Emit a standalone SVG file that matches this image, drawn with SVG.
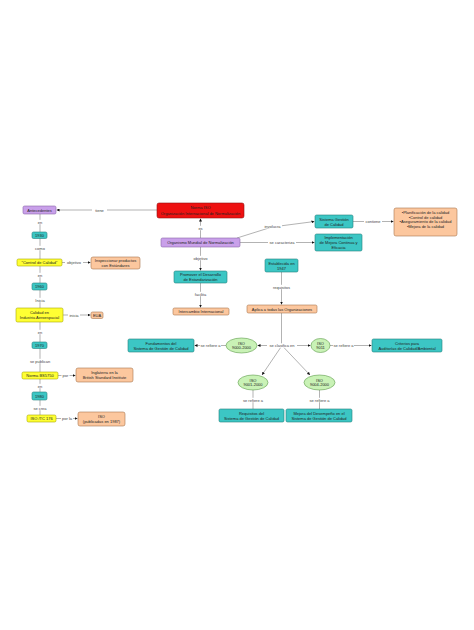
<svg xmlns="http://www.w3.org/2000/svg" width="474" height="630" viewBox="0 0 474 630">
<defs>
<marker id="ah" viewBox="0 0 10 10" refX="10" refY="5" markerWidth="3" markerHeight="3" markerUnits="userSpaceOnUse" orient="auto">
<path d="M0,0 L10,5 L0,10 z" fill="#111"/>
</marker>
<style>
text{font-family:"Liberation Sans","DejaVu Sans",sans-serif;font-size:4px;fill:#222;text-anchor:middle;dominant-baseline:central}
.lab{fill:#444}
.lbg{fill:#fff}
.c line,.c polyline{stroke:#666;stroke-width:0.5;fill:none}
.a{marker-end:url(#ah)}
.pu{fill:#c9a0ea;stroke:#8a66aa;stroke-width:0.6}
.te{fill:#3cc6c4;stroke:#237f7e;stroke-width:0.6}
.ye{fill:#ffff33;stroke:#a8a800;stroke-width:0.6}
.or{fill:#fcc79e;stroke:#a8764e;stroke-width:0.6}
.re{fill:#ee1111;stroke:#901010;stroke-width:0.6}
.gr{fill:#c9f2b6;stroke:#5d9a4a;stroke-width:0.6}
</style>
</defs>
<rect width="474" height="630" fill="#fff"/>

<g id="connectors" class="c">
<line x1="40" y1="214" x2="40" y2="415"/>
<line x1="157" y1="210" x2="56.5" y2="210" class="a"/>
<line x1="200.5" y1="238" x2="200.5" y2="218.5" class="a"/>
<line x1="200.5" y1="247" x2="200.5" y2="270.5" class="a"/>
<line x1="200.5" y1="283" x2="200.5" y2="307.5" class="a"/>
<polyline points="237,238 272,227 314.5,221.5" class="a"/>
<line x1="240" y1="242.5" x2="314.5" y2="242.5" class="a"/>
<line x1="353" y1="221.5" x2="393.5" y2="221.5" class="a"/>
<line x1="62" y1="262.5" x2="90.5" y2="262.5" class="a"/>
<line x1="63" y1="315" x2="90.5" y2="315" class="a"/>
<line x1="58" y1="375.5" x2="75.5" y2="375.5" class="a"/>
<line x1="56" y1="418.5" x2="77.5" y2="418.5" class="a"/>
<line x1="281.5" y1="272" x2="281.5" y2="304.5" class="a"/>
<line x1="281.5" y1="313" x2="281.5" y2="345"/>
<line x1="282" y1="345.5" x2="257.5" y2="345.5" class="a"/>
<line x1="282" y1="345.5" x2="310.5" y2="345.5" class="a"/>
<line x1="282" y1="345.5" x2="262" y2="375" class="a"/>
<line x1="282" y1="345.5" x2="310" y2="375" class="a"/>
<line x1="226" y1="345.5" x2="194.5" y2="345.5" class="a"/>
<line x1="330" y1="345.5" x2="371.5" y2="345.5" class="a"/>
<line x1="253" y1="390" x2="253" y2="409"/>
<line x1="319.5" y1="390" x2="319.5" y2="409"/>
</g>

<g id="labels">
<rect class="lbg" x="92" y="207.8" width="15" height="4.4"/><text class="lab" x="99.5" y="210">tiene</text>
<rect class="lbg" x="197.5" y="225.8" width="6" height="4.4"/><text class="lab" x="200.5" y="228">es</text>
<rect class="lbg" x="191" y="255.8" width="19" height="4.4"/><text class="lab" x="200.5" y="258">objetivo</text>
<rect class="lbg" x="193" y="291.8" width="15" height="4.4"/><text class="lab" x="200.5" y="294">facilita</text>
<rect class="lbg" x="263" y="224" width="19" height="4.4"/><text class="lab" x="272.5" y="226.2">involucra</text>
<rect class="lbg" x="268" y="240.3" width="28" height="4.4"/><text class="lab" x="282" y="242.5">se caracteriza</text>
<rect class="lbg" x="364" y="219.3" width="18" height="4.4"/><text class="lab" x="373" y="221.5">contiene</text>
<rect class="lbg" x="37" y="219.8" width="6" height="4.4"/><text class="lab" x="40" y="222">en</text>
<rect class="lbg" x="34" y="245.8" width="12" height="4.4"/><text class="lab" x="40" y="248">como</text>
<rect class="lbg" x="37" y="272.8" width="6" height="4.4"/><text class="lab" x="40" y="275">en</text>
<rect class="lbg" x="34.5" y="297.8" width="11" height="4.4"/><text class="lab" x="40" y="300">Inicia</text>
<rect class="lbg" x="37" y="329.8" width="6" height="4.4"/><text class="lab" x="40" y="332">en</text>
<rect class="lbg" x="29" y="358.8" width="22" height="4.4"/><text class="lab" x="40" y="361">se publican</text>
<rect class="lbg" x="37" y="383.8" width="6" height="4.4"/><text class="lab" x="40" y="386">en</text>
<rect class="lbg" x="33" y="405.8" width="14" height="4.4"/><text class="lab" x="40" y="408">se crea</text>
<rect class="lbg" x="65" y="260.3" width="18" height="4.4"/><text class="lab" x="74" y="262.5">objetivo</text>
<rect class="lbg" x="68" y="312.8" width="12" height="4.4"/><text class="lab" x="74" y="315">inicia</text>
<rect class="lbg" x="61.5" y="373.3" width="8" height="4.4"/><text class="lab" x="65.5" y="375.5">por</text>
<rect class="lbg" x="61" y="416.3" width="12" height="4.4"/><text class="lab" x="67" y="418.5">por la</text>
<rect class="lbg" x="272" y="284.8" width="19" height="4.4"/><text class="lab" x="281.5" y="287">requisitos</text>
<rect class="lbg" x="267" y="343.3" width="30" height="4.4"/><text class="lab" x="282" y="345.5">se clasifica en</text>
<rect class="lbg" x="200" y="343.3" width="21" height="4.4"/><text class="lab" x="210.5" y="345.5">se refiere a</text>
<rect class="lbg" x="333" y="343.3" width="21" height="4.4"/><text class="lab" x="343.5" y="345.5">se refiere a</text>
<rect class="lbg" x="242.5" y="397.8" width="21" height="4.4"/><text class="lab" x="253" y="400">se refiere a</text>
<rect class="lbg" x="309" y="397.8" width="21" height="4.4"/><text class="lab" x="319.5" y="400">se refiere a</text>
</g>

<g id="norma-iso"><rect class="re" x="157" y="203" width="87" height="15" rx="2"/><text x="200.5" y="207.8">Norma ISO</text><text x="200.5" y="213.3">Organización Internacional de Normalización</text></g>
<g id="antecedentes"><rect class="pu" x="23" y="206" width="33" height="8" rx="1.5"/><text x="39.5" y="210">Antecedentes</text></g>
<g id="organismo"><rect class="pu" x="161" y="238" width="79" height="9" rx="1.5"/><text x="200.5" y="242.5">Organismo Mundial de Normalización</text></g>
<g id="n1930"><rect class="te" x="32" y="232" width="15" height="6.5" rx="1.5"/><text x="39.5" y="235.3">1930</text></g>
<g id="control"><rect class="ye" x="17" y="259" width="45" height="7" rx="1.5"/><text x="39.5" y="262.5">“Control de Calidad”</text></g>
<g id="inspeccionar"><rect class="or" x="91" y="257" width="49" height="12" rx="2"/><text x="115.5" y="260.8">Inspeccionar productos</text><text x="115.5" y="265.5">con Estándares</text></g>
<g id="n1960"><rect class="te" x="32" y="283" width="15" height="7" rx="1.5"/><text x="39.5" y="286.5">1960</text></g>
<g id="aeroespacial"><rect class="ye" x="16" y="308" width="47" height="14" rx="1.5"/><text x="39.5" y="312.8">Calidad en</text><text x="39.5" y="317.5">Industria Aeroespacial</text></g>
<g id="eua"><rect class="or" x="91" y="312" width="12" height="6.5" rx="1.5"/><text x="97" y="315.3">EUA</text></g>
<g id="n1970"><rect class="te" x="32" y="342" width="15" height="6.5" rx="1.5"/><text x="39.5" y="345.3">1970</text></g>
<g id="bs5750"><rect class="ye" x="22" y="372" width="36" height="7" rx="1.5"/><text x="40" y="375.5">Norma BS5750</text></g>
<g id="inglaterra"><rect class="or" x="76" y="368" width="57" height="14" rx="2"/><text x="104.5" y="372.8">Inglaterra en la</text><text x="104.5" y="377.5">British Standard Institute</text></g>
<g id="n1980"><rect class="te" x="32" y="392" width="15" height="8" rx="1.5"/><text x="39.5" y="396">1980</text></g>
<g id="isotc"><rect class="ye" x="27" y="415" width="29" height="7" rx="1.5"/><text x="41.5" y="418.5">ISO /TC 176</text></g>
<g id="iso1987"><rect class="or" x="78" y="412" width="47" height="14" rx="2"/><text x="101.5" y="416.8">ISO</text><text x="101.5" y="421.5">(publicadas en 1987)</text></g>
<g id="promover"><rect class="te" x="174" y="271" width="53" height="12" rx="1.5"/><text x="200.5" y="274.8">Promover el Desarrollo</text><text x="200.5" y="279.5">de Estandarización</text></g>
<g id="intercambio"><rect class="or" x="173" y="308" width="56" height="7" rx="1.5"/><text x="201" y="311.5">Intercambio Internacional</text></g>
<g id="sgc"><rect class="te" x="315" y="215" width="38" height="13" rx="1.5"/><text x="334" y="219.3">Sistema Gestión</text><text x="334" y="224">de Calidad</text></g>
<g id="contiene-box"><rect class="or" x="394" y="208" width="63" height="28" rx="2"/><text x="425.5" y="212.5">•Planificación de la calidad</text><text x="425.5" y="217">•Control de calidad</text><text x="425.5" y="221.5">•Aseguramiento de la calidad</text><text x="425.5" y="226">•Mejora de la calidad</text></g>
<g id="implementacion"><rect class="te" x="315" y="234" width="47" height="17" rx="1.5"/><text x="338.5" y="237.8">Implementación</text><text x="338.5" y="242.5">de Mejora Continua y</text><text x="338.5" y="247.2">Eficacia</text></g>
<g id="establecida"><rect class="te" x="265" y="259" width="33" height="13" rx="1.5"/><text x="281.5" y="263.3">Establecida en</text><text x="281.5" y="268">1947</text></g>
<g id="aplica"><rect class="or" x="247" y="305" width="70" height="8" rx="1.5"/><text x="282" y="309">Aplica a todas las Organizaciones</text></g>
<g id="iso9000"><ellipse class="gr" cx="241.5" cy="345.5" rx="15.5" ry="7.5"/><text x="241.5" y="343.3">ISO</text><text x="241.5" y="347.8">9000-2000</text></g>
<g id="iso9011"><ellipse class="gr" cx="320.5" cy="345.5" rx="9.5" ry="7"/><text x="320.5" y="343.3">ISO</text><text x="320.5" y="347.8">9011</text></g>
<g id="iso9001"><ellipse class="gr" cx="253" cy="382.5" rx="15" ry="7.5"/><text x="253" y="380.3">ISO</text><text x="253" y="384.8">9001-2000</text></g>
<g id="iso9004"><ellipse class="gr" cx="319.5" cy="382.5" rx="15.5" ry="7.5"/><text x="319.5" y="380.3">ISO</text><text x="319.5" y="384.8">9004-2000</text></g>
<g id="fundamentos"><rect class="te" x="128" y="339" width="66" height="13" rx="1.5"/><text x="161" y="343.3">Fundamentos del</text><text x="161" y="348">Sistema de Gestión de Calidad</text></g>
<g id="criterios"><rect class="te" x="372" y="339" width="70" height="13" rx="1.5"/><text x="407" y="343.3">Criterios para</text><text x="407" y="348">Auditorías de Calidad/Ambiental</text></g>
<g id="requisitos"><rect class="te" x="219" y="409" width="65" height="13" rx="1.5"/><text x="251.5" y="413.3">Requisitos del</text><text x="251.5" y="418">Sistema de Gestión de Calidad</text></g>
<g id="mejora"><rect class="te" x="286" y="409" width="66" height="13" rx="1.5"/><text x="319" y="413.3">Mejora del Desempeño en el</text><text x="319" y="418">Sistema de Gestión de Calidad</text></g>
</svg>
